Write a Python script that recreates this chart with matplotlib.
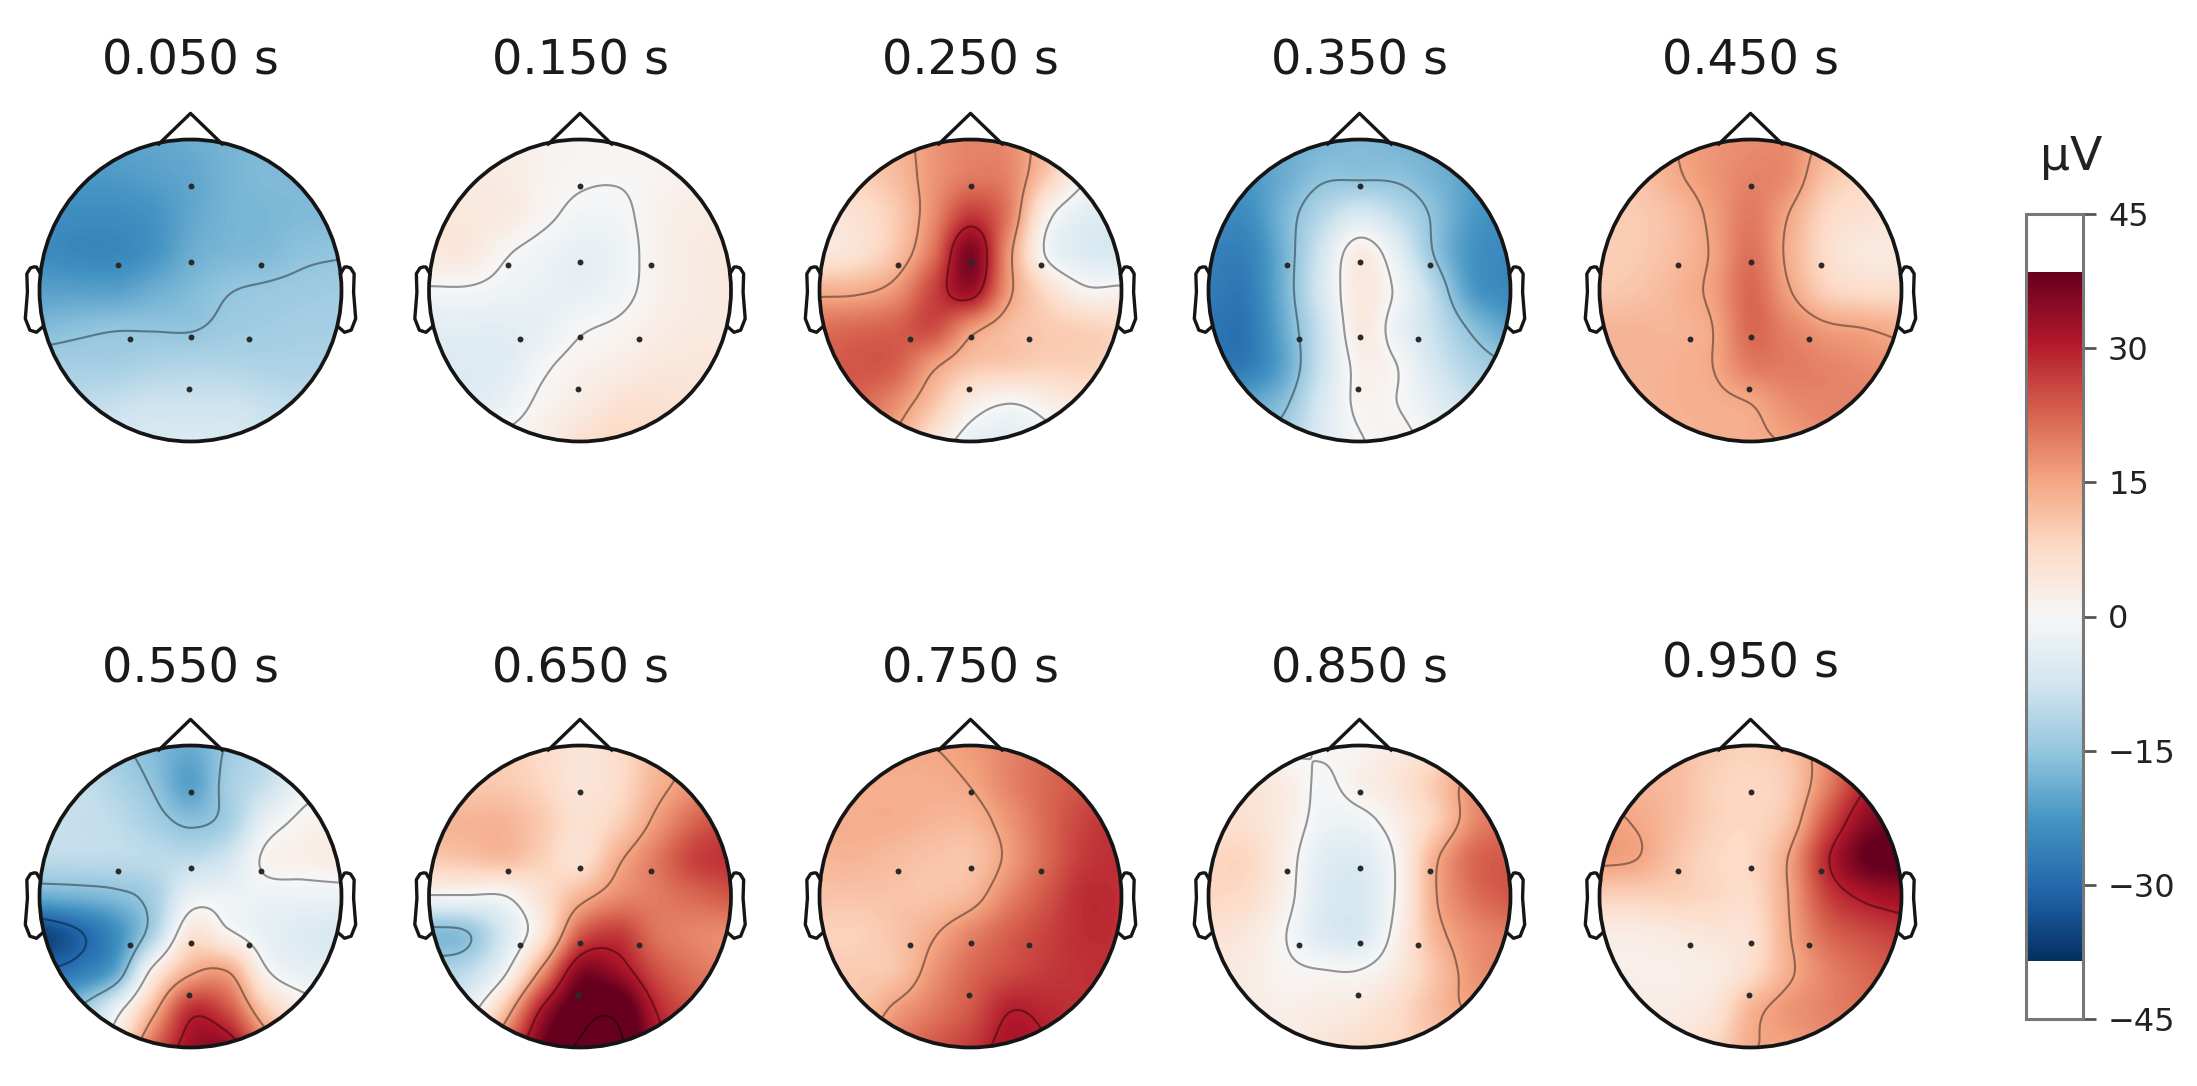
import numpy as np
import matplotlib
matplotlib.use("Agg")
import matplotlib.pyplot as plt
from matplotlib.patches import Circle

W, H = 2197, 1086

times = ["0.050 s", "0.150 s", "0.250 s", "0.350 s", "0.450 s",
         "0.550 s", "0.650 s", "0.750 s", "0.850 s", "0.950 s"]

# electrodes, in head radii
sens_x = [0, -0.48, 0, 0.47, -0.40, 0, 0.39, -0.01]
sens_y = [0.69, 0.17, 0.19, 0.17, -0.32, -0.31, -0.32, -0.65]

# values in uV, rows y=1..-1, columns x=-1..1, step 0.25
t050 = [[-20, -20, -20, -20, -19, -18, -17, -17, -17],
        [-22, -22, -22, -21, -20, -18, -17, -17, -17],
        [-24, -24, -24, -23, -20, -18, -17.5, -17, -17],
        [-24, -25, -25, -23, -19, -17.5, -17, -15.7, -15.3],
        [-21, -21, -21, -19, -17, -15.2, -14.5, -14, -13.5],
        [-17, -16, -15.3, -15.3, -15.3, -14, -13.5, -13, -13],
        [-13, -13, -13, -12, -11.5, -11.5, -12, -12, -12],
        [-10, -10, -9, -8, -8, -8, -9, -10, -10],
        [-7, -7, -6.5, -6, -5.5, -6, -7, -8, -8]]
t150 = [[2, 2, 2, 1.5, 1, 1, 1, 2, 2],
        [3, 3, 3, 1.5, 0.5, 0.3, 1, 2, 3],
        [4, 4, 3.5, 1, -1, -1, 1.5, 2.5, 3],
        [4, 4, 0.5, -1.5, -3, -2, 1.5, 3, 4],
        [-0.5, -0.5, -1.5, -2.5, -3, -1.5, 1.5, 3, 4],
        [-4, -4, -4, -3, -0.5, 0.7, 2.5, 3.5, 3.5],
        [-5, -5, -4.5, -0.8, 1.5, 2.5, 4, 4.5, 4],
        [-5, -5, -2.5, 1, 3, 5.5, 6, 5, 4],
        [-4, -4, 1, 2.5, 6, 8, 7, 5, 4]]
t250 = [[10, 11, 13, 17, 19, 18, 13, 6, 2],
        [8, 9, 12, 17, 20, 19, 10, 1, -1],
        [5, 6, 10, 18, 27, 20, 2, -4, -5],
        [4, 6, 11, 21, 36, 17, -0.5, -5, -6],
        [13.5, 14, 17, 26, 33, 16.5, 7, 1, 1],
        [21, 22, 23, 25, 17, 12, 10, 9, 8],
        [23, 24, 23, 16, 11, 10, 9, 9, 8],
        [22, 22, 18, 11, 3, 0, 2, 5, 6],
        [18, 18, 14, 5, -3, -4, -2, 3, 5]]
t350 = [[-19, -19, -19, -18, -17, -18, -19, -20, -20],
        [-22, -22, -19, -15.7, -15.5, -15.7, -18, -21, -22],
        [-24, -24, -17.5, -11, -6, -10, -16, -22, -24],
        [-26, -26, -18, -7, 3, -4, -15.5, -23, -25],
        [-27, -27, -18, -6, 4, -1, -11, -22, -25],
        [-28, -28, -19, -8, 3.5, -2.5, -9, -16, -21],
        [-27, -27, -20, -8, 1.5, 0, -7, -12, -15],
        [-22, -20, -16, -6, 1, 0, -4, -9, -11],
        [-19, -17, -12, -5, -0.5, 1.5, -2, -6, -8]]
t450 = [[11, 12, 15, 17, 18, 18, 14, 10, 8],
        [11, 11, 14.3, 17, 19, 18, 11, 8, 7],
        [10, 10, 12, 16, 20, 15, 8, 6, 5],
        [9.5, 10, 12, 15.5, 21, 14, 7, 4, 4],
        [10, 11, 13, 16, 22, 15.5, 9, 7, 7],
        [13, 13, 13, 15, 22, 19, 16, 15, 13.5],
        [13, 13, 13.5, 15, 20, 20, 19, 18, 17],
        [13, 13, 13.5, 14, 15, 18, 19, 19, 18],
        [13, 13, 13, 14, 14, 15.5, 18, 18, 18]]
t550 = [[-12, -12, -14, -17, -19, -14.5, -10, -4, -2],
        [-9, -9, -12, -15.5, -21, -13, -9, -2, -1],
        [-9, -9, -10, -13, -16, -13, -3, 1, 2],
        [-10, -10, -10, -10, -10, -7, 1, 2, 3],
        [-19, -18, -16.5, -13, -3, -2, -2, -2, -2],
        [-36, -31, -24, -12, 5, 1, -3, -5, -6],
        [-30, -27, -20, 2, 14, 15, 0.8, -3, -4],
        [-20, -15, -3, 13, 28, 24, 10, 3, 2],
        [-15, -12, 4, 22, 33, 34, 20, 10, 5]]
t650 = [[9, 9, 9, 7, 5, 7, 12, 16, 18],
        [10, 10, 10, 8, 5, 7, 13, 17, 20],
        [13, 13, 13, 10, 6, 9, 16, 22, 26],
        [10, 11, 12, 9, 6, 14, 20, 26, 28],
        [-0.5, -0.5, -0.2, 6, 13, 18, 20, 22, 24],
        [-17, -15.5, -6, 5, 23, 27, 21, 19, 18],
        [-12, -10, -1, 17, 35, 33, 25, 21, 19],
        [-6, -3, 11, 31, 42, 43, 30, 24, 20],
        [-2, 3, 22, 38, 46, 47, 33, 26, 20]]
t750 = [[15, 15, 15, 15, 16.5, 19, 21, 22, 23],
        [14, 14, 14, 14, 15.2, 19, 22, 24, 25],
        [14, 14, 14, 13, 13, 17, 22, 26, 28],
        [13, 13, 12, 11, 11, 16, 22, 27, 28.5],
        [11, 11, 11, 11, 13, 19, 24, 28.5, 28.5],
        [9, 9, 11, 14.5, 19, 23, 26, 28.5, 28.5],
        [10, 10, 11, 17, 22, 25, 27, 28, 28.5],
        [11, 11, 16, 20, 24, 29.7, 29, 28, 28],
        [13, 14, 20, 24, 27, 32, 30.5, 28, 27]]
t850 = [[4, 4, -1, 0.5, 1, 3, 6, 10, 14],
        [5, 5, 3, -0.6, 2, 5, 10, 17, 20],
        [6, 6, 3, -1.5, -1.5, 2.5, 9, 18, 22],
        [8, 8, 2.5, -4, -5, 0.8, 14, 22, 24],
        [8, 7, 2, -5, -6, 0.7, 14.5, 21, 24],
        [6, 4, 0.3, -5, -6, 2, 13, 18, 20],
        [4, 3, 1, 0.3, 0.3, 4, 11, 17, 19],
        [3, 3, 2, 3, 4, 7, 12, 15.5, 15],
        [3, 3, 3, 5, 7, 8, 10, 10, 10]]
t950 = [[13, 13, 12, 10, 9, 11, 18, 25, 28],
        [13, 13, 12, 9, 8, 10, 19, 29, 33],
        [16, 14.6, 12, 9, 8, 11.5, 24, 34, 38],
        [16, 15, 11, 8, 8, 15.2, 29, 38, 40],
        [9, 9, 9, 8, 7.5, 15, 26, 31, 33],
        [3, 3, 4, 5, 6, 14.5, 22, 25, 27],
        [2, 2, 2, 3, 7, 14, 19, 22, 24],
        [3, 3, 3, 5, 13, 17, 19, 21, 22],
        [4, 4, 5, 8, 14.5, 15.5, 18, 19, 20]]
maps = [t050, t150, t250, t350, t450, t550, t650, t750, t850, t950]

cbar_ticks = [-45, -30, -15, 0, 15, 30, 45]
contour_levels = [-30, -15, 0, 15, 30, 45]
vlim = 38.5

# head outline (mne style)
nose_x = [-0.21, 0, 0.21]
nose_y = [0.97, 1.173, 0.97]
ear_x = np.array([.497, .510, .518, .5299, .5419, .54, .547, .532, .510, .489]) * 2
ear_y = np.array([.0555, .0775, .0783, .0746, .0555, -.0055, -.0932, -.1313, -.1384, -.1199]) * 2

centers_x = [190.5, 580, 970.5, 1359.5, 1750.5]
centers_y = [290.5, 896.5]
title_y = [61, 669]
radius = 151


def smooth_axis(z, n):
    # catmull-rom along the first axis, only to draw the surface smoothly
    m = z.shape[0]
    pad = np.vstack([2 * z[0] - z[1], z, 2 * z[-1] - z[-2]])
    t = np.linspace(0, m - 1, n)
    i = np.minimum(t.astype(int), m - 2)
    u = (t - i)[:, None]
    p0, p1, p2, p3 = pad[i], pad[i + 1], pad[i + 2], pad[i + 3]
    return 0.5 * (2 * p1 + (p2 - p0) * u + (2 * p0 - 5 * p1 + 4 * p2 - p3) * u ** 2
                  + (3 * p1 - p0 - 3 * p2 + p3) * u ** 3)


def smooth_grid(vals, n=300):
    z = smooth_axis(np.array(vals, dtype=float), n)
    return smooth_axis(z.T, n).T


def px_axes(x0, y0, x1, y1):
    # y counted from the top, as in the picture
    return fig.add_axes([x0 / W, 1 - y1 / H, (x1 - x0) / W, (y1 - y0) / H])


fig = plt.figure(figsize=(W / 100, H / 100), dpi=100)
fig.patch.set_facecolor("white")
side = 1.3 * radius

for k, vals in enumerate(maps):
    cx = centers_x[k % 5]
    cy = centers_y[k // 5]
    ax = px_axes(cx - side, cy - side, cx + side, cy + side)
    ax.set_xlim(-1.3, 1.3)
    ax.set_ylim(-1.3, 1.3)
    ax.axis("off")

    z = smooth_grid(vals)
    grid = np.linspace(-1, 1, z.shape[0])
    clip = Circle((0, 0), 1, transform=ax.transData)
    im = ax.imshow(z, extent=(-1, 1, -1, 1), cmap="RdBu_r", vmin=-vlim, vmax=vlim,
                   interpolation="bilinear", origin="upper")
    im.set_clip_path(clip)
    cs = ax.contour(grid, grid[::-1], z, levels=contour_levels, colors="k",
                    linewidths=1.5, linestyles="solid", alpha=0.4)
    cs.set_clip_path(clip)

    ax.scatter(sens_x, sens_y, s=18, color="#2a2a2a", linewidths=0, zorder=4)
    ax.add_patch(Circle((0, 0), 1, fill=False, ec="#151515", lw=2.7, zorder=5))
    ax.plot(nose_x, nose_y, color="#151515", lw=2.4, zorder=5)
    ax.plot(ear_x, ear_y, color="#151515", lw=2.4, zorder=5)
    ax.plot(-ear_x, ear_y, color="#151515", lw=2.4, zorder=5)

    ty = 664 if k == 9 else title_y[k // 5]
    fig.text(cx / W, 1 - ty / H, times[k], ha="center", va="center", fontsize=34.5, color="#1a1a1a")

# colour bar
cax = px_axes(2026, 214, 2083, 1019)
ramp = np.linspace(vlim, -vlim, 256)[:, None]
cax.imshow(ramp, extent=(0, 1, -vlim, vlim), cmap="RdBu_r", vmin=-vlim, vmax=vlim, aspect="auto")
cax.set_xlim(0, 1)
cax.set_ylim(-45, 45)
cax.set_xticks([])
cax.yaxis.tick_right()
cax.set_yticks(cbar_ticks)
cax.set_yticklabels([str(t).replace("-", "\u2212") for t in cbar_ticks])
cax.tick_params(axis="y", labelsize=23, length=9, width=2, color="#555555", labelcolor="#222222", pad=9)
for s in cax.spines.values():
    s.set_color("#777777")
    s.set_linewidth(2.2)
fig.text(2071 / W, 1 - 157 / H, "\u00b5V", ha="center", va="center", fontsize=34, color="#222222")

fig.savefig("out.png", dpi=100)
